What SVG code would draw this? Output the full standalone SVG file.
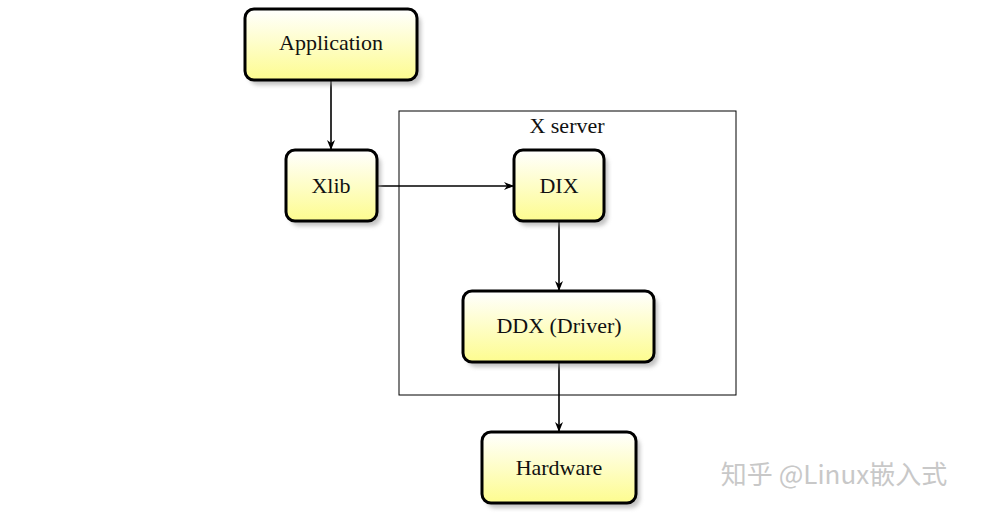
<svg xmlns="http://www.w3.org/2000/svg" width="989" height="515" viewBox="0 0 989 515">
<style>
.box{fill:url(#g);stroke:#000;stroke-width:3}
.sh{fill:#999;opacity:0.6}
.t{font-family:"Liberation Serif",serif;font-size:22px;text-anchor:middle;fill:#111}
.c{stroke:#000;stroke-width:1.6;fill:none;marker-end:url(#a)}
</style>
<defs>
<linearGradient id="g" x1="0" y1="0" x2="0" y2="1"><stop offset="0" stop-color="#ffffff"/><stop offset="1" stop-color="#fdfc8f"/></linearGradient>
<filter id="b"><feGaussianBlur stdDeviation="2"/></filter>
<marker id="a" markerWidth="10" markerHeight="8" refX="9" refY="4" orient="auto" markerUnits="userSpaceOnUse"><path d="M0,0 L10,4 L0,8 L3,4 Z" fill="#000"/></marker>
</defs>
<rect width="989" height="515" fill="#fff"/>
<g id="xserver"><rect x="399" y="111" width="337" height="284" fill="none" stroke="#000" stroke-width="1"/><text class="t" x="567" y="133">X server</text></g>
<g id="connectors">
<path class="c" d="M331,80 V149"/>
<path class="c" d="M377,186 H513"/>
<path class="c" d="M559,221 V290"/>
<path class="c" d="M559,362 V431"/>
</g>
<g id="application"><rect class="sh" x="249" y="14" width="172" height="71" rx="9" filter="url(#b)"/><rect class="box" x="245" y="9" width="172" height="71" rx="9"/><text class="t" x="331" y="50">Application</text></g>
<g id="xlib"><rect class="sh" x="290" y="155" width="91" height="71" rx="9" filter="url(#b)"/><rect class="box" x="286" y="150" width="91" height="71" rx="9"/><text class="t" x="331" y="193">Xlib</text></g>
<g id="dix"><rect class="sh" x="518" y="155" width="90" height="71" rx="9" filter="url(#b)"/><rect class="box" x="514" y="150" width="90" height="71" rx="9"/><text class="t" x="559" y="193">DIX</text></g>
<g id="ddx"><rect class="sh" x="467" y="296" width="191" height="71" rx="9" filter="url(#b)"/><rect class="box" x="463" y="291" width="191" height="71" rx="9"/><text class="t" x="559" y="333">DDX (Driver)</text></g>
<g id="hardware"><rect class="sh" x="486" y="437" width="154" height="71" rx="9" filter="url(#b)"/><rect class="box" x="482" y="432" width="154" height="71" rx="9"/><text class="t" x="559" y="475">Hardware</text></g>
<text x="834" y="484" font-family="'Noto Sans CJK SC',sans-serif" font-size="26" text-anchor="middle" fill="#c8c8c8">知乎 @Linux嵌入式</text>
</svg>
